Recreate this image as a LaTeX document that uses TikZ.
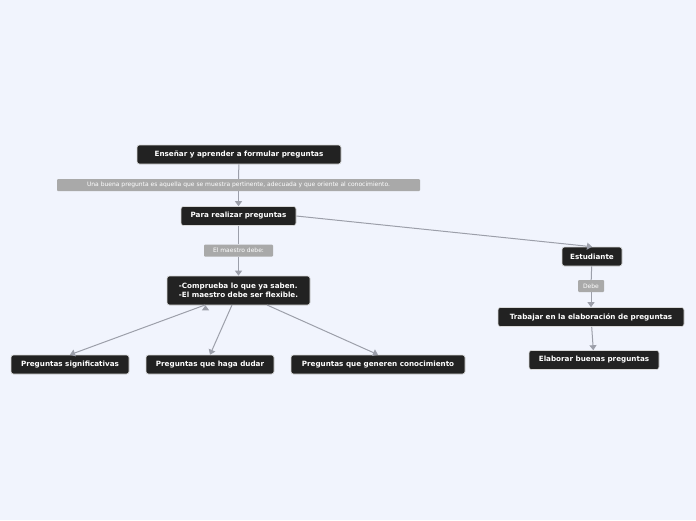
\documentclass[tikz,border=0pt]{standalone}
\usepackage{fontspec}
\setmainfont{DejaVu Sans}
\usetikzlibrary{arrows.meta}
\definecolor{bg}{HTML}{F1F4FD}
\definecolor{nodebg}{HTML}{222222}
\definecolor{lab}{HTML}{A9A9A9}
\definecolor{edge}{HTML}{9C9FAA}
\tikzset{
 topic/.style={draw=white!70!gray, line width=0.6pt, fill=nodebg, rounded corners=2.5pt, text=white, font=\bfseries\fontsize{7.2}{9}\selectfont, inner sep=0pt, minimum height=19pt, align=left},
 lbl/.style={fill=lab, text=white, font=\fontsize{6}{7}\selectfont, inner sep=0pt, minimum height=12pt, rounded corners=1pt},
 conn/.style={draw=edge, line width=1pt, -{Triangle[length=5pt,width=7pt]}},
 plain/.style={draw=edge, line width=1pt}
}
\begin{document}
\begin{tikzpicture}[x=1pt,y=-1pt]
\fill[bg] (0,0) rectangle (696,520);
\useasboundingbox (0,0) rectangle (696,520);
\node[topic, minimum width=204pt, align=center] (top) at (239,154.5) {Enseñar y aprender a formular preguntas};
\node[lbl, minimum width=363pt] (l1) at (238.5,185) {Una buena pregunta es aquella que se muestra pertinente, adecuada y que oriente al conocimiento.};
\node[topic, minimum width=115pt, align=center] (para) at (238.5,216) {Para realizar preguntas};
\node[lbl, minimum width=69pt] (l2) at (238.5,250.5) {El maestro debe:};
\node[topic, minimum width=143pt, minimum height=29pt] (comp) at (238.5,290.5) {-Comprueba lo que ya saben.\\-El maestro debe ser flexible.};
\node[topic, minimum width=118pt, align=center] (sig) at (70,364.5) {Preguntas significativas};
\node[topic, minimum width=128pt, align=center] (dud) at (210,364.5) {Preguntas que haga dudar};
\node[topic, minimum width=174pt, align=center] (gen) at (378,364.5) {Preguntas que generen conocimiento};
\node[topic, minimum width=60pt, align=center] (est) at (592,256.5) {Estudiante};
\node[lbl, minimum width=26pt] (l3) at (591,286) {Debe};
\node[topic, minimum width=186pt, align=center] (trab) at (591,317) {Trabajar en la elaboración de preguntas};
\node[topic, minimum width=130pt, align=center] (elab) at (594,360) {Elaborar buenas preguntas};
\draw[plain] (top) -- (l1);
\draw[conn] (l1) -- (para);
\draw[plain] (para) -- (l2);
\draw[conn] (l2) -- (comp);
\draw[conn] (comp.south) ++(-33,0) coordinate (c1);
\draw[conn] (205,305) -- (sig.north);
\draw[conn] (232,305) -- (dud.north);
\draw[conn] (267,305) -- (gen.north);
\draw[conn] (para.east) -- (est.north);
\draw[plain] (est) -- (l3);
\draw[conn] (l3) -- (trab);
\draw[conn] (trab) -- (elab);
\end{tikzpicture}
\end{document}
